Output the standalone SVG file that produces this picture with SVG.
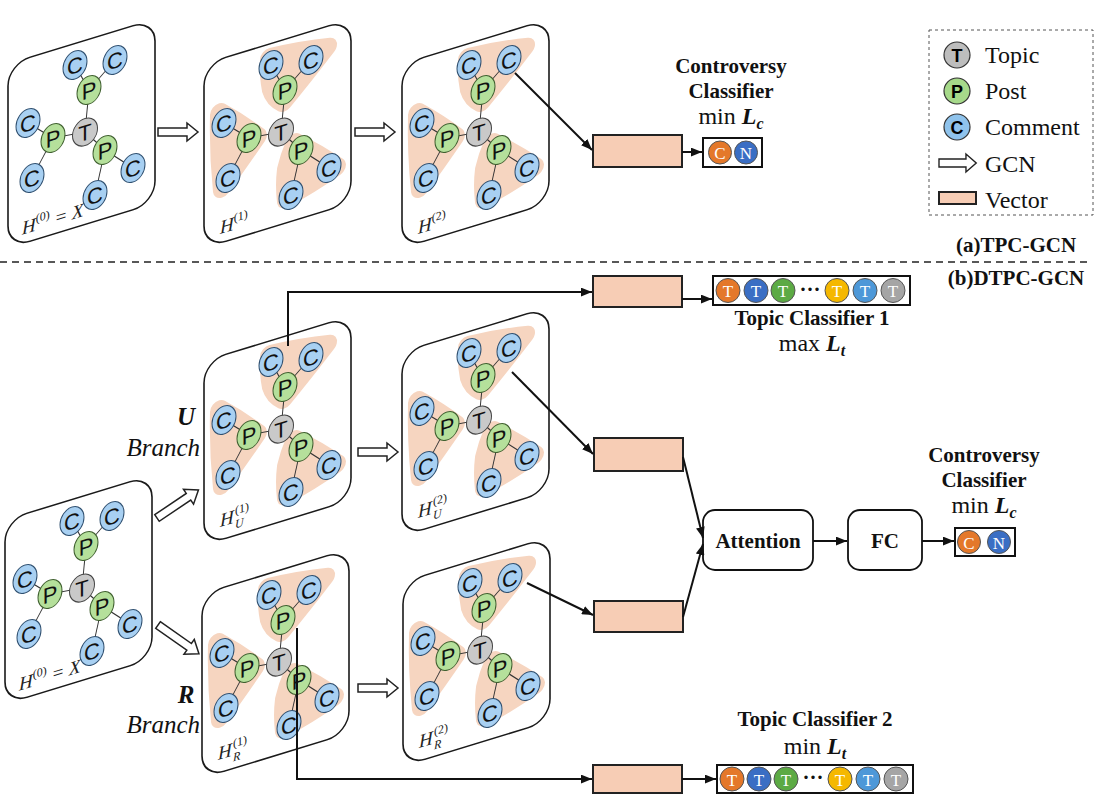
<svg xmlns="http://www.w3.org/2000/svg" xmlns:xlink="http://www.w3.org/1999/xlink" width="1106" height="804" viewBox="0 0 1106 804">
<style>
.panel{fill:#fff;stroke:#1a1a1a;stroke-width:1.6}
.e{stroke:#333;stroke-width:1}
.nc{fill:#a8d0f2;stroke:#2f4f6f;stroke-width:1}
.np{fill:#b5e09b;stroke:#3f5f2f;stroke-width:1}
.nt{fill:#c9c9c9;stroke:#444;stroke-width:1}
.nl{font-family:"Liberation Sans",Arial,sans-serif;font-size:22px;fill:#111;text-anchor:middle;dominant-baseline:central}
.blob{fill:#f6d5c0;stroke:#f6d5c0;stroke-width:18;stroke-linejoin:round}
.gcn{fill:#fff;stroke:#222;stroke-width:1.5}
.vec{fill:#f7cdb5;stroke:#222;stroke-width:2}
.conn{fill:none;stroke:#111;stroke-width:2}
.box{fill:#fff;stroke:#111;stroke-width:2}
.rbox{fill:#fff;stroke:#111;stroke-width:1.8}
.sb{font-family:"Liberation Serif",serif;font-weight:bold;font-size:21px;text-anchor:middle;fill:#111}
.sm{font-family:"Liberation Serif",serif;font-size:24px;text-anchor:middle;fill:#111}
.bi{font-weight:bold;font-style:italic}
.lg{font-family:"Liberation Serif",serif;font-size:24px;fill:#111}
.hl{font-family:"Liberation Serif",serif;font-style:italic;font-size:19px;fill:#222}
.br{font-family:"Liberation Serif",serif;font-style:italic;font-size:25px;fill:#111}
.chip{font-family:"Liberation Serif",serif;font-size:17px;fill:#fff;text-anchor:middle;dominant-baseline:central}
.ic{stroke:#555;stroke-width:1}
.li{font-family:"Liberation Sans",Arial,sans-serif;font-weight:bold;font-size:18px;fill:#000;text-anchor:middle;dominant-baseline:central}
</style>
<defs>
<marker id="ah" viewBox="0 0 10 8" refX="10" refY="4" markerWidth="11" markerHeight="9" orient="auto" markerUnits="userSpaceOnUse"><path d="M0,0 L10,4 L0,8 z" fill="#111"/></marker>
<path id="gcnArrow" class="gcn" d="M0,-4 H29 V-9 L40,0 L29,9 V4 H0 Z"/>
<path id="gcnArrowLong" class="gcn" d="M0,-4 H38 V-9 L50,0 L38,9 V4 H0 Z"/>
<g id="blobs">
<path class="blob" d="M65,13 Q95,15 124,21 Q100,45 80,63 Q70,55 67,44 Q64,28 65,13 Z"/>
<path class="blob" d="M15,53 Q35,70 54,90 Q35,112 18,130 Q14,90 15,53 Z"/>
<path class="blob" d="M90,106 Q112,124 133,144 Q108,154 82,160 Q80,143 82,128 Q85,116 90,106 Z"/>
</g>
<g id="graph">
<line class="e" x1="77" y1="91.6" x2="81" y2="50.8"/>
<line class="e" x1="77" y1="91.6" x2="45" y2="87.8"/>
<line class="e" x1="77" y1="91.6" x2="97" y2="115.7"/>
<line class="e" x1="81" y1="50.8" x2="67" y2="21.5"/>
<line class="e" x1="81" y1="50.8" x2="107" y2="28.7"/>
<line class="e" x1="45" y1="87.8" x2="20" y2="65.1"/>
<line class="e" x1="45" y1="87.8" x2="24" y2="121.3"/>
<line class="e" x1="97" y1="115.7" x2="125" y2="142.3"/>
<line class="e" x1="97" y1="115.7" x2="87" y2="157.6"/>
<ellipse class="nc" cx="67" cy="21.5" rx="12" ry="14"/><text class="nl" x="67" y="22.5">C</text>
<ellipse class="nc" cx="107" cy="28.7" rx="12" ry="14"/><text class="nl" x="107" y="29.7">C</text>
<ellipse class="np" cx="81" cy="50.8" rx="12" ry="14"/><text class="nl" x="81" y="51.8">P</text>
<ellipse class="nt" cx="77" cy="91.6" rx="12.5" ry="13.5"/><text class="nl" x="77" y="92.6">T</text>
<ellipse class="nc" cx="20" cy="65.1" rx="12" ry="14"/><text class="nl" x="20" y="66.1">C</text>
<ellipse class="np" cx="45" cy="87.8" rx="12" ry="14"/><text class="nl" x="45" y="88.8">P</text>
<ellipse class="nc" cx="24" cy="121.3" rx="12" ry="14"/><text class="nl" x="24" y="122.3">C</text>
<ellipse class="np" cx="97" cy="115.7" rx="12" ry="14"/><text class="nl" x="97" y="116.7">P</text>
<ellipse class="nc" cx="125" cy="142.3" rx="12" ry="14"/><text class="nl" x="125" y="143.3">C</text>
<ellipse class="nc" cx="87" cy="157.6" rx="12" ry="14"/><text class="nl" x="87" y="158.6">C</text>
</g>
</defs>
<rect width="1106" height="804" fill="#fff"/>

<!-- (a) TPC-GCN panels -->
<g id="panel-h0" transform="translate(8,64) skewY(-17)">
<rect class="panel" x="0" y="0" width="147" height="184" rx="22"/>
<use xlink:href="#graph"/>
<text class="hl" x="14" y="175">H<tspan font-size="12" font-style="normal" dy="-8">(0)</tspan><tspan dy="8"> = X</tspan></text>
</g>
<g id="panel-h1" transform="translate(204,64) skewY(-17)">
<rect class="panel" x="0" y="0" width="147" height="184" rx="22"/>
<use xlink:href="#blobs"/><use xlink:href="#graph"/>
<text class="hl" x="16" y="175">H<tspan font-size="12" font-style="normal" dy="-8">(1)</tspan></text>
</g>
<g id="panel-h2" transform="translate(402,64) skewY(-17)">
<rect class="panel" x="0" y="0" width="147" height="184" rx="22"/>
<use xlink:href="#blobs"/><use xlink:href="#graph"/>
<text class="hl" x="16" y="175">H<tspan font-size="12" font-style="normal" dy="-8">(2)</tspan></text>
</g>

<!-- (b) DTPC-GCN panels -->
<g id="panel-b-h0" transform="translate(5,520) skewY(-17)">
<rect class="panel" x="0" y="0" width="147" height="184" rx="22"/>
<use xlink:href="#graph"/>
<text class="hl" x="14" y="175">H<tspan font-size="12" font-style="normal" dy="-8">(0)</tspan><tspan dy="8"> = X</tspan></text>
</g>
<g id="panel-u1" transform="translate(204,361) skewY(-17)">
<rect class="panel" x="0" y="0" width="147" height="184" rx="22"/>
<use xlink:href="#blobs"/><use xlink:href="#graph"/>
<text class="hl" x="16" y="171">H<tspan x="31" dy="-8" font-size="12" font-style="normal">(1)</tspan><tspan x="31" dy="14" font-size="12">U</tspan></text>
</g>
<g id="panel-u2" transform="translate(402,352) skewY(-17)">
<rect class="panel" x="0" y="0" width="147" height="184" rx="22"/>
<use xlink:href="#blobs"/><use xlink:href="#graph"/>
<text class="hl" x="16" y="171">H<tspan x="31" dy="-8" font-size="12" font-style="normal">(2)</tspan><tspan x="31" dy="14" font-size="12">U</tspan></text>
</g>
<g id="panel-r1" transform="translate(202,594) skewY(-17)">
<rect class="panel" x="0" y="0" width="147" height="184" rx="22"/>
<use xlink:href="#blobs"/><use xlink:href="#graph"/>
<text class="hl" x="16" y="171">H<tspan x="31" dy="-8" font-size="12" font-style="normal">(1)</tspan><tspan x="31" dy="14" font-size="12">R</tspan></text>
</g>
<g id="panel-r2" transform="translate(403,582) skewY(-17)">
<rect class="panel" x="0" y="0" width="147" height="184" rx="22"/>
<use xlink:href="#blobs"/><use xlink:href="#graph"/>
<text class="hl" x="16" y="171">H<tspan x="31" dy="-8" font-size="12" font-style="normal">(2)</tspan><tspan x="31" dy="14" font-size="12">R</tspan></text>
</g>

<!-- GCN arrows -->
<g id="gcn-arrows">
<use xlink:href="#gcnArrow" transform="translate(158,132)"/>
<use xlink:href="#gcnArrow" transform="translate(355,132)"/>
<use xlink:href="#gcnArrow" transform="translate(358,452)"/>
<use xlink:href="#gcnArrow" transform="translate(358,688)"/>
<use xlink:href="#gcnArrowLong" transform="translate(157,518) rotate(-34)"/>
<use xlink:href="#gcnArrowLong" transform="translate(158,625) rotate(35)"/>
</g>

<!-- vectors -->
<g id="vec-top"><rect class="vec" x="593" y="135" width="89" height="32"/></g>
<g id="vec-topic1"><rect class="vec" x="593" y="276" width="89" height="31"/></g>
<g id="vec-u"><rect class="vec" x="594" y="438" width="89" height="33"/></g>
<g id="vec-r"><rect class="vec" x="594" y="601" width="89" height="31"/></g>
<g id="vec-topic2"><rect class="vec" x="593" y="765" width="89" height="28"/></g>

<!-- classifier outputs -->
<g id="cn-top">
<rect class="box" x="703" y="138" width="59" height="29"/>
<circle class="ic" cx="720" cy="152.5" r="11.5" fill="#e4782a"/><text class="chip" x="720" y="153.5">C</text>
<circle class="ic" cx="746" cy="152.5" r="11.5" fill="#3a6ec4"/><text class="chip" x="746" y="153.5">N</text>
</g>
<g id="cn-bottom">
<rect class="box" x="955" y="528" width="60" height="28"/>
<circle class="ic" cx="969" cy="542" r="11.5" fill="#e4782a"/><text class="chip" x="969" y="543">C</text>
<circle class="ic" cx="999" cy="542" r="11.5" fill="#3a6ec4"/><text class="chip" x="999" y="543">N</text>
</g>
<g id="topics1">
<rect class="box" x="713" y="276" width="197" height="29"/>
<circle class="ic" cx="728" cy="290.5" r="12" fill="#e4782a"/><text class="chip" x="728" y="291.5">T</text>
<circle class="ic" cx="756" cy="290.5" r="12" fill="#3a6ec4"/><text class="chip" x="756" y="291.5">T</text>
<circle class="ic" cx="783" cy="290.5" r="12" fill="#5caa44"/><text class="chip" x="783" y="291.5">T</text>
<text class="sb" x="810" y="296" font-weight="normal" font-size="18">···</text>
<circle class="ic" cx="837" cy="290.5" r="12" fill="#f5b800"/><text class="chip" x="837" y="291.5">T</text>
<circle class="ic" cx="865" cy="290.5" r="12" fill="#4d98d8"/><text class="chip" x="865" y="291.5">T</text>
<circle class="ic" cx="893" cy="290.5" r="12" fill="#a5a5a5"/><text class="chip" x="893" y="291.5">T</text>
</g>
<g id="topics2">
<rect class="box" x="717" y="765" width="196" height="28"/>
<circle class="ic" cx="732" cy="779" r="12" fill="#e4782a"/><text class="chip" x="732" y="780">T</text>
<circle class="ic" cx="759" cy="779" r="12" fill="#3a6ec4"/><text class="chip" x="759" y="780">T</text>
<circle class="ic" cx="786" cy="779" r="12" fill="#5caa44"/><text class="chip" x="786" y="780">T</text>
<text class="sb" x="813" y="784" font-weight="normal" font-size="18">···</text>
<circle class="ic" cx="840" cy="779" r="12" fill="#f5b800"/><text class="chip" x="840" y="780">T</text>
<circle class="ic" cx="868" cy="779" r="12" fill="#4d98d8"/><text class="chip" x="868" y="780">T</text>
<circle class="ic" cx="896" cy="779" r="12" fill="#a5a5a5"/><text class="chip" x="896" y="780">T</text>
</g>

<!-- attention / FC -->
<g id="attention">
<rect class="rbox" x="703" y="510" width="110" height="60" rx="12"/>
<text class="sb" x="758" y="548" font-size="20">Attention</text>
</g>
<g id="fc">
<rect class="rbox" x="848" y="510" width="74" height="60" rx="12"/>
<text class="sb" x="885" y="548" font-size="20">FC</text>
</g>

<!-- labels -->
<g id="labels">
<text class="sb" x="731" y="73" font-size="22">Controversy</text>
<text class="sb" x="731" y="98" font-size="22">Classifier</text>
<text class="sm" x="731" y="124">min <tspan class="bi">L</tspan><tspan class="bi" font-size="16" dy="5">c</tspan></text>
<text class="sb" x="984" y="462" font-size="22">Controversy</text>
<text class="sb" x="984" y="487" font-size="22">Classifier</text>
<text class="sm" x="984" y="513">min <tspan class="bi">L</tspan><tspan class="bi" font-size="16" dy="5">c</tspan></text>
<text class="sb" x="812" y="325">Topic Classifier 1</text>
<text class="sm" x="812" y="351">max <tspan class="bi">L</tspan><tspan class="bi" font-size="16" dy="5">t</tspan></text>
<text class="sb" x="815" y="726">Topic Classifier 2</text>
<text class="sm" x="815" y="754">min <tspan class="bi">L</tspan><tspan class="bi" font-size="16" dy="5">t</tspan></text>
<text class="br" x="186" y="425" text-anchor="middle" font-weight="bold">U</text>
<text class="br" x="200" y="456" text-anchor="end">Branch</text>
<text class="br" x="186" y="703" text-anchor="middle" font-weight="bold">R</text>
<text class="br" x="200" y="733" text-anchor="end">Branch</text>
<text class="sb" x="1016" y="252" font-size="20">(a)TPC-GCN</text>
<text class="sb" x="1016" y="285" font-size="20">(b)DTPC-GCN</text>
</g>

<line x1="0" y1="262" x2="1092" y2="262" stroke="#222" stroke-width="1.5" stroke-dasharray="7,5"/>

<!-- legend -->
<g id="legend">
<rect x="929" y="30" width="164" height="185" fill="none" stroke="#555" stroke-width="1" stroke-dasharray="3,3"/>
<circle cx="957" cy="55" r="13" fill="#bdbdbd" stroke="#333" stroke-width="1.2"/><text class="li" x="957" y="56">T</text>
<text class="lg" x="985" y="63">Topic</text>
<circle cx="957" cy="91" r="13" fill="#a6d98a" stroke="#333" stroke-width="1.2"/><text class="li" x="957" y="92">P</text>
<text class="lg" x="985" y="99">Post</text>
<circle cx="957" cy="127" r="13" fill="#8fc3ec" stroke="#333" stroke-width="1.2"/><text class="li" x="957" y="128">C</text>
<text class="lg" x="985" y="135">Comment</text>
<use xlink:href="#gcnArrow" transform="translate(939,163) scale(0.93,1)"/>
<text class="lg" x="985" y="172">GCN</text>
<rect class="vec" x="939" y="192" width="37" height="12" stroke-width="1.5"/>
<text class="lg" x="985" y="208">Vector</text>
</g>

<!-- connectors -->
<g id="connectors">
<line class="conn" x1="515" y1="73" x2="592" y2="150" marker-end="url(#ah)"/>
<line class="conn" x1="682" y1="152" x2="702" y2="152" marker-end="url(#ah)"/>
<path class="conn" d="M288,346 V292 H592" marker-end="url(#ah)"/>
<line class="conn" x1="682" y1="299" x2="712" y2="299" marker-end="url(#ah)"/>
<line class="conn" x1="512" y1="372" x2="593" y2="454" marker-end="url(#ah)"/>
<line class="conn" x1="527" y1="583" x2="593" y2="615" marker-end="url(#ah)"/>
<path class="conn" d="M297,628 V779 H592" marker-end="url(#ah)"/>
<line class="conn" x1="682" y1="779" x2="716" y2="779" marker-end="url(#ah)"/>
<line class="conn" x1="683" y1="457" x2="703" y2="538" marker-end="url(#ah)"/>
<line class="conn" x1="683" y1="617" x2="703" y2="544" marker-end="url(#ah)"/>
<line class="conn" x1="813" y1="541" x2="847" y2="541" marker-end="url(#ah)"/>
<line class="conn" x1="922" y1="541" x2="954" y2="541" marker-end="url(#ah)"/>
</g>
</svg>
